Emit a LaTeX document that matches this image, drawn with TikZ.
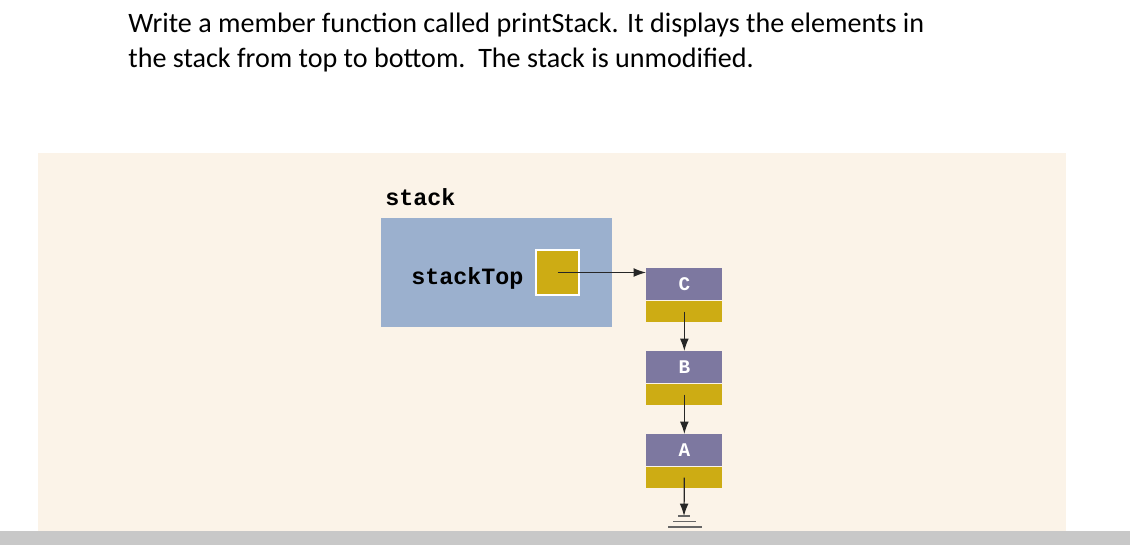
\documentclass[tikz,border=0pt]{standalone}
\usepackage{fontspec}
\setmainfont{Carlito}
\newfontfamily\mono{Liberation Mono}
\begin{document}
\begin{tikzpicture}[x=0.02cm,y=-0.02cm,
  arr/.style={draw=black!85,line width=0.7pt,-{Latex[length=7pt,width=5pt]}},
  purp/.style={fill=purpC,draw=none},
  yel/.style={fill=yelC,draw=none},
  lbl/.style={font=\mono\bfseries\fontsize{11}{12}\selectfont,text=white}]
\usetikzlibrary{arrows.meta}
\definecolor{beigeC}{RGB}{251,243,232}
\definecolor{blueC}{RGB}{155,176,206}
\definecolor{purpC}{RGB}{125,120,160}
\definecolor{yelC}{RGB}{205,172,20}
\definecolor{grayC}{RGB}{200,200,200}
\useasboundingbox (0,0) rectangle (1130,545);
\fill[white] (0,0) rectangle (1130,545);
\fill[beigeC] (38,153) rectangle (1066,531);
\fill[grayC] (0,531) rectangle (1130,545);
\node[anchor=base west,inner sep=0,font=\fontsize{16}{19}\selectfont] (t1) at (128,32) {Write a member function called printStack. It displays the elements in};
\node[anchor=base west,inner sep=0,font=\fontsize{16}{19}\selectfont] (t2) at (128,67) {the stack from top to bottom.\ \ The stack is unmodified.};
\node[anchor=base west,inner sep=0,font=\mono\bfseries\fontsize{13.3}{15}\selectfont] (sl) at (385,205) {stack};
\fill[blueC] (381,218) rectangle (612,327);
\node[anchor=base west,inner sep=0,font=\mono\bfseries\fontsize{13.3}{15}\selectfont] (st) at (411,284) {stackTop};
\node[fill=yelC,draw=white,line width=1pt,inner sep=0,minimum width=0.86cm,minimum height=0.9cm] (ptr) at (557.5,272.5) {};
\foreach \n/\t/\y in {c/C/268,b/B/351,a/A/434}{
  \node[purp,minimum width=1.52cm,minimum height=0.64cm,inner sep=0,anchor=north west,lbl] (\n) at (646,\y) {\t};
  \node[yel,minimum width=1.52cm,minimum height=0.42cm,inner sep=0,anchor=north] (\n l) at (\n.south) {};
}
\coordinate (g) at (684,516);
\draw[arr] (ptr.center) -- (ptr.center -| c.west);
\draw[arr] (cl.center) -- (b.north);
\draw[arr] (bl.center) -- (a.north);
\draw[arr] (al.center) -- (g);
\draw[black!60,line width=1pt] (678,516) -- (690,516) (673,521.5) -- (696,521.5) (668,527) -- (702,527);
\end{tikzpicture}
\end{document}
